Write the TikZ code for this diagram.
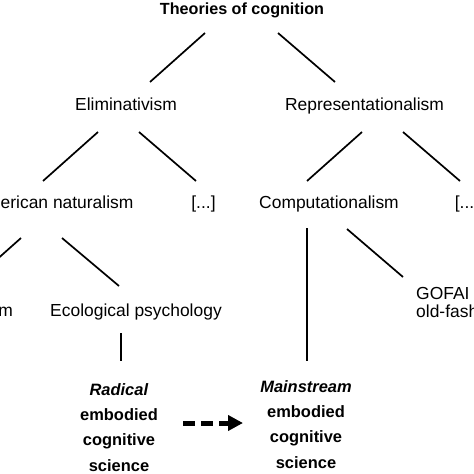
\documentclass[tikz,border=0pt]{standalone}
\usepackage{fontspec}
\setmainfont{Liberation Sans}
\usetikzlibrary{arrows.meta, calc}
\tikzstyle{term} = [inner sep=0pt, anchor=base, font=\fontsize{17.5}{18}\selectfont]
\tikzstyle{heading} = [term, font=\fontsize{16.2}{20}\selectfont\bfseries]
\tikzstyle{outcome} = [inner sep=0pt, anchor=north, align=center, font=\fontsize{16.5}{25.5}\selectfont\bfseries]
\tikzstyle{branch} = [line width=1.7bp]
\tikzstyle{dasharrow} = [line width=5bp, dash pattern=on 12bp off 6bp, -{Triangle[length=15bp,width=15bp]}]

\begin{document}
\begin{tikzpicture}[x=1bp, y=-1bp]
    \useasboundingbox (0,0) rectangle (474,474);
    \clip (0,0) rectangle (474,474);

    \node (root) [heading] at (242,15) {Theories of cognition};
    \node (elim) [term] at (126,111) {Eliminativism};
    \node (repr) [term] at (364.5,111) {Representationalism};
    \node (amnat) [term] at (54,209) {American naturalism};
    \node (dotsl) [term] at (203.5,209) {[...]};
    \node (comp) [term] at (329,209) {Computationalism};
    \node (dotsr) [term] at (467,209) {[...]};
    \node (leftm) [term, anchor=base east] at (13,316) {m};
    \node (eco) [term] at (136,316) {Ecological psychology};
    \node (gofai) [term, anchor=north west, align=left] at (416,287) {GOFAI\\old-fashioned};
    \node (radical) [outcome] at (119,383) {\textit{Radical}\\embodied\\cognitive\\science};
    \node (mainstr) [outcome] at (306,380) {\textit{Mainstream}\\embodied\\cognitive\\science};

    % tree branches
    \draw[branch] ($(root.base)+(-37,18)$) -- ($(elim.base)+(24,-29)$);
    \draw[branch] ($(root.base)+(36,18)$) -- ($(repr.base)+(-29.5,-29)$);
    \draw[branch] ($(elim.base)+(-28,21)$) -- ($(amnat.base)+(-11,-28)$);
    \draw[branch] ($(elim.base)+(13,21)$) -- ($(dotsl.base)+(-7.5,-28)$);
    \draw[branch] ($(repr.base)+(-2.5,21)$) -- ($(comp.base)+(-22,-28)$);
    \draw[branch] ($(repr.base)+(38.5,21)$) -- ($(dotsr.base)+(-7,-28)$);
    \draw[branch] ($(amnat.base)+(-33,29)$) -- ($(leftm.base east)+(-47,-29)$);
    \draw[branch] ($(amnat.base)+(8,29)$) -- ($(eco.base)+(-17,-30)$);
    \draw[branch] ($(comp.base)+(-22,19)$) -- ($(mainstr.north)+(1,-19)$);
    \draw[branch] ($(comp.base)+(18,20)$) -- ($(gofai.north west)+(-13,-10)$);
    \draw[branch] ($(eco.base)+(-15,17)$) -- ($(radical.north)+(2,-22)$);

    \draw[dasharrow] ($(radical.north)+(64,40)$) -- ($(mainstr.north)+(-63,43)$);
\end{tikzpicture}
\end{document}
